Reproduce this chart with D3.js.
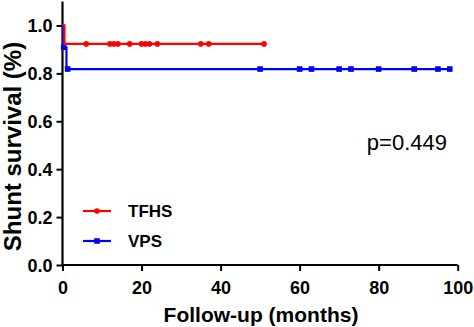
<!DOCTYPE html>
<html><head><meta charset="utf-8">
<script src="https://cdn.jsdelivr.net/npm/d3@7"></script>
<style>body{margin:0;background:#fff}svg{display:block}text{font-family:"Liberation Sans",Arial,sans-serif}</style>
</head><body><svg id="c" width="474" height="327"></svg>
<script>
const xTicks = [0, 20, 40, 60, 80, 100];
const yTicks = [0.0, 0.2, 0.4, 0.6, 0.8, 1.0];
const seriesNames = ["TFHS", "VPS"];
const tfhsEventTimes = [0, 0.5];
const tfhsSurvival = [1.0, 0.923];
const tfhsEnd = 51;
const tfhsCensored = [6, 12, 13, 14, 17, 20, 21, 22, 24, 35, 37, 51];
const vpsEventTimes = [0, 0.2, 1.0];
const vpsSurvival = [1.0, 0.909, 0.818];
const vpsEnd = 98;
const vpsCensored = [0.3, 1.3, 50, 60, 63, 70, 73, 80, 89, 95, 98];
const pText = "p=0.449";

const svg = d3.select("#c");
const x = d3.scaleLinear().domain([0, 100]).range([62.5, 457.7]);
const y = d3.scaleLinear().domain([0, 1.1]).range([265, 1.5]);

function survAt(times, surv, t) {
  let s = surv[0];
  for (let i = 0; i < times.length; i++) if (times[i] <= t) s = surv[i];
  return s;
}
function pts(times, surv, end) {
  const p = times.map((t, i) => [t, surv[i]]);
  p.push([end, surv[surv.length - 1]]);
  return p;
}
const line = d3.line().x(d => x(d[0])).y(d => y(d[1])).curve(d3.curveStepAfter);

const series = [
  {name: seriesNames[0], color: "#ff0000", times: tfhsEventTimes, surv: tfhsSurvival, end: tfhsEnd, cens: tfhsCensored, shape: "circle"},
  {name: seriesNames[1], color: "#0000ff", times: vpsEventTimes, surv: vpsSurvival, end: vpsEnd, cens: vpsCensored, shape: "square"}
];

// axes
const xAxis = svg.append("g").attr("transform", "translate(0,265)")
  .call(d3.axisBottom(x).tickValues(xTicks).tickSize(6).tickPadding(4).tickFormat(d3.format("d")));
const yAxis = svg.append("g").attr("transform", "translate(62.5,0)")
  .call(d3.axisLeft(y).tickValues(yTicks).tickSize(6).tickPadding(4).tickFormat(d3.format(".1f")));
[xAxis, yAxis].forEach(g => {
  g.select(".domain").attr("stroke", "#000").attr("stroke-width", 2.2);
  g.selectAll(".tick line").attr("stroke", "#000").attr("stroke-width", 2);
  g.selectAll(".tick text").attr("fill", "#000").style("font-size", "18px").style("font-weight", "bold");
});
xAxis.select(".domain").attr("d", `M${x(0)},0H${x(100)}`);
yAxis.select(".domain").attr("d", `M0,${y(0)}V${y(1.1)}`);
xAxis.selectAll(".tick text").attr("y", 28.5).attr("dy", null);
yAxis.selectAll(".tick text").attr("x", -10).attr("dy", "0.36em");

// lines (VPS first so red over)
[series[1], series[0]].forEach(s => {
  svg.append("path").attr("d", line(pts(s.times, s.surv, s.end)))
    .attr("fill", "none").attr("stroke", s.color).attr("stroke-width", 2.2);
  const g = svg.append("g");
  s.cens.forEach(t => {
    const cx = x(t), cy = y(survAt(s.times, s.surv, t));
    if (s.shape === "circle") g.append("circle").attr("cx", cx).attr("cy", cy).attr("r", 2.8).attr("fill", s.color);
    else g.append("rect").attr("x", cx - 2.8).attr("y", cy - 2.8).attr("width", 5.6).attr("height", 5.6).attr("fill", s.color);
  });
});

// legend
const legY = [211, 241];
series.forEach((s, i) => {
  svg.append("line").attr("x1", 83).attr("x2", 111).attr("y1", legY[i]).attr("y2", legY[i])
    .attr("stroke", s.color).attr("stroke-width", 2.2);
  if (s.shape === "circle") svg.append("circle").attr("cx", 97).attr("cy", legY[i]).attr("r", 2.8).attr("fill", s.color);
  else svg.append("rect").attr("x", 94.2).attr("y", legY[i] - 2.8).attr("width", 5.6).attr("height", 5.6).attr("fill", s.color);
  svg.append("text").attr("x", 128).attr("y", legY[i] + 6).text(s.name)
    .style("font-size", "17px").style("font-weight", "bold").attr("fill", "#000");
});

// p value
svg.append("text").attr("x", 447).attr("y", 150).attr("text-anchor", "end").text(pText)
  .style("font-size", "22px").attr("fill", "#000");

// axis titles
svg.append("text").attr("x", 261).attr("y", 322).attr("text-anchor", "middle")
  .text("Follow-up (months)").style("font-size", "21px").style("font-weight", "bold");
svg.append("text").attr("transform", "translate(21,146.5) rotate(-90)").attr("text-anchor", "middle")
  .text("Shunt survival (%)").style("font-size", "24px").style("font-weight", "bold");
</script></body></html>
